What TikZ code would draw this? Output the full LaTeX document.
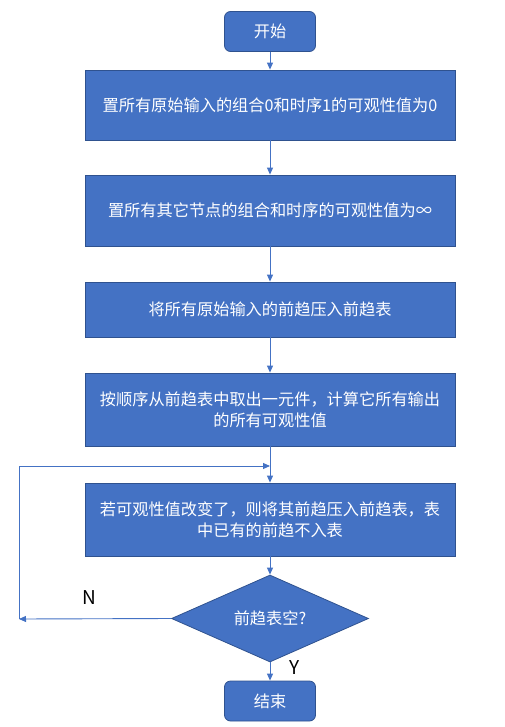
\documentclass[tikz,border=0pt]{standalone}
\usepackage{fontspec}
\newfontfamily\cjk{Noto Sans CJK SC}
\usetikzlibrary{shapes.geometric,arrows.meta}
\definecolor{boxfill}{HTML}{4472C4}
\definecolor{boxline}{HTML}{2F528F}
\definecolor{arrcol}{HTML}{4472C4}
\begin{document}
\begin{tikzpicture}[x=1pt,y=-1pt,
  txt/.style={font=\cjk\fontsize{16.2}{21}\selectfont, text=white, align=center},
  procbox/.style={txt, draw=boxline, line width=0.8pt, fill=boxfill, minimum width=370pt, minimum height=70pt, inner sep=0pt},
  termbox/.style={txt, draw=boxline, line width=0.8pt, fill=boxfill, rounded corners=6pt, minimum width=91pt, minimum height=40pt, inner sep=0pt},
  decbox/.style={txt, diamond, draw=boxline, line width=0.8pt, fill=boxfill, minimum width=197pt, minimum height=87pt, inner sep=0pt, aspect=2.26},
  arr/.style={draw=arrcol, line width=0.9pt, -{Triangle[length=7pt,width=6pt]}},
  lbl/.style={font=\cjk\fontsize{19}{19}\selectfont, text=black}
]
\useasboundingbox (0,0) rectangle (504,727);
\node[termbox] (start) at (270,31.5) {开始};
\node[procbox, minimum height=70pt] (b1) at (270,105) {置所有原始输入的组合0和时序1的可观性值为0};
\node[procbox, minimum height=71pt] (b2) at (270,210.5) {置所有其它节点的组合和时序的可观性值为∞};
\node[procbox, minimum height=55pt] (b3) at (270,309.5) {将所有原始输入的前趋压入前趋表};
\node[procbox, minimum height=73pt] (b4) at (270,409.5) {按顺序从前趋表中取出一元件，计算它所有输出\\的所有可观性值};
\node[procbox, minimum height=73pt] (b5) at (270,519.5) {若可观性值改变了，则将其前趋压入前趋表，表\\中已有的前趋不入表};
\node[decbox] (d) at (270,618.5) {前趋表空?};
\node[termbox] (end) at (270,701) {结束};
\coordinate (lc) at (19,619);
\coordinate (jn) at (270,466);
\draw[arr] (start) -- (b1);
\draw[arr] (b1) -- (b2);
\draw[arr] (b2) -- (b3);
\draw[arr] (b3) -- (b4);
\draw[arr] (b4) -- (b5);
\draw[arr] (b5) -- (d);
\draw[arr] (d) -- (end);
\draw[arr] (d.west) -- (lc);
\draw[arr] (lc) |- (jn);
\node[lbl] (nl) at (89,598) {N};
\node[lbl] (yl) at (295,668) {Y};
\end{tikzpicture}
\end{document}
